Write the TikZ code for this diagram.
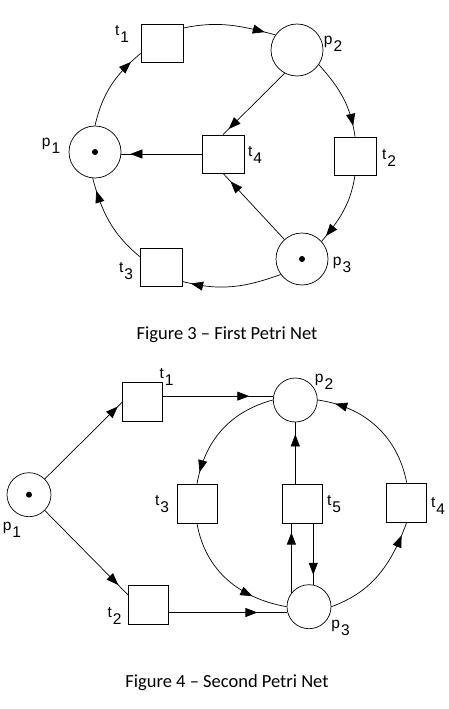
\documentclass[tikz,border=0pt]{standalone}
\usepackage{fontspec}
\setmainfont{Liberation Sans}
\newfontfamily\capfont{Carlito}
\usetikzlibrary{arrows.meta,decorations.markings,calc}
\newcommand\sublab[2]{#1\kern1pt\raisebox{-7pt}{#2}}
\begin{document}
\begin{tikzpicture}[x=1pt,y=1pt,line width=0.7pt,
  place/.style={circle,draw,minimum size=52pt,inner sep=0pt},
  placeb/.style={circle,draw,minimum size=44pt,inner sep=0pt},
  trans/.style={rectangle,draw,minimum width=42pt,minimum height=38pt,inner sep=0pt},
  transb/.style={rectangle,draw,minimum width=40pt,minimum height=39pt,inner sep=0pt},
  tok/.style={circle,fill,inner sep=0pt,minimum size=6pt},
  lbl/.style={font=\fontsize{15.5}{16}\selectfont,inner sep=0pt},
  arr/.style={postaction={decorate,decoration={markings,mark=at position #1 with {\arrow{Triangle[length=12pt,width=9pt]}}}}},
  captext/.style={font=\capfont\fontsize{18.5}{20}\selectfont,anchor=base}
]
\useasboundingbox (0,0) rectangle (448,-709);
% ---------- Figure 3 ----------
\node[place] (p1) at (95,-152) {};
\node[tok] (p1tok) at (p1) {};
\node[trans] (t1) at (162,-43) {};
\node[place] (p2) at (297,-50) {};
\node[trans] (t4) at (223,-154) {};
\node[trans] (t2) at (355,-156) {};
\node[place] (p3) at (302,-259) {};
\node[tok] (p3tok) at (p3) {};
\node[trans] (t3) at (161,-267) {};
\node[lbl] (lt1) at (122,-34) {\sublab{t}{1}};
\node[lbl] (lp2) at (333,-44) {\sublab{p}{2}};
\node[lbl] (lp1) at (51,-146) {\sublab{p}{1}};
\node[lbl] (lt4) at (255,-155) {\sublab{t}{4}};
\node[lbl] (lt2) at (389,-158) {\sublab{t}{2}};
\node[lbl] (lt3) at (126,-271) {\sublab{t}{3}};
\node[lbl] (lp3) at (342,-265) {\sublab{p}{3}};
\draw[arr=-13pt] (p1.north) to[out=77,in=220] (t1.206);
\draw[arr=-11pt] (t1.35) to[out=12,in=165] (p2.145);
\draw[arr=-11pt] (p2.-34) to[out=-48,in=98] (t2.north);
\draw[arr=-7pt] (t2.south) to[out=-99,in=50] (p3.42);
\draw[arr=-9pt] (p3.216) to[out=200,in=-15] (t3.-34);
\draw[arr=-13pt] (t3.154) to[out=140,in=285] (p1.265);
\draw[arr=-9pt] (t4.west) -- (t4.west -| p1.east);
\draw[arr=-8pt] (p2.242) -- (t4.north);
\draw[arr=-11pt] (p3.132) -- (t4.south);
\node[captext] (cap3) at (227,-339) {Figure 3 – First Petri Net};
% ---------- Figure 4 ----------
\node[placeb] (q1) at (29,-494.7) {};
\node[tok] (q1tok) at (q1) {};
\node[transb] (u1) at (142.5,-402.2) {};
\node[transb] (u2) at (148.5,-604.5) {};
\node[placeb] (q2) at (295.3,-400) {};
\node[transb] (u3) at (197,-503.7) {};
\node[transb] (u5) at (302,-503.7) {};
\node[transb] (u4) at (406.7,-502.5) {};
\node[placeb] (q3) at (309,-606.7) {};
\node[lbl] (lu1) at (166.5,-377) {\sublab{t}{1}};
\node[lbl] (lq2) at (324,-382) {\sublab{p}{2}};
\node[lbl] (lq1) at (12,-530) {\sublab{p}{1}};
\node[lbl] (lu4) at (438,-505.5) {\sublab{t}{4}};
\node[lbl] (lu3) at (162,-504) {\sublab{t}{3}};
\node[lbl] (lu5) at (334,-504) {\sublab{t}{5}};
\node[lbl] (lu2) at (114.5,-616) {\sublab{t}{2}};
\node[lbl] (lq3) at (340.5,-628) {\sublab{p}{3}};
\draw[arr=-6pt] (q1.45) -- (u1.west);
\draw[arr=-14pt] (q1.-45) -- (u2.155);
\draw[arr=-24pt] (u1.east |- q2.170) -- (q2.170);
\draw[arr=-30pt] (u2.east |- q3.195) -- (q3.195);
\draw[arr=-12pt] (q2.west) to[out=195,in=80] (u3.north);
\draw[arr=-36pt] (u3.south) to[out=280,in=170] (q3.west);
\draw[arr=-14pt] (q3.east) to[out=20,in=250] (u4.south);
\draw[arr=-18pt] (u4.north) to[out=101,in=-8] (q2.east);
\draw[arr=-12pt] (q2.south |- u5.north) -- (q2.south);
\draw[arr=-9pt] (q3.142) -- (q3.142 |- u5.south);
\draw[arr=-10pt] (q3.79 |- u5.south) -- (q3.79);
\node[captext] (cap4) at (227,-687) {Figure 4 – Second Petri Net};
\end{tikzpicture}
\end{document}
